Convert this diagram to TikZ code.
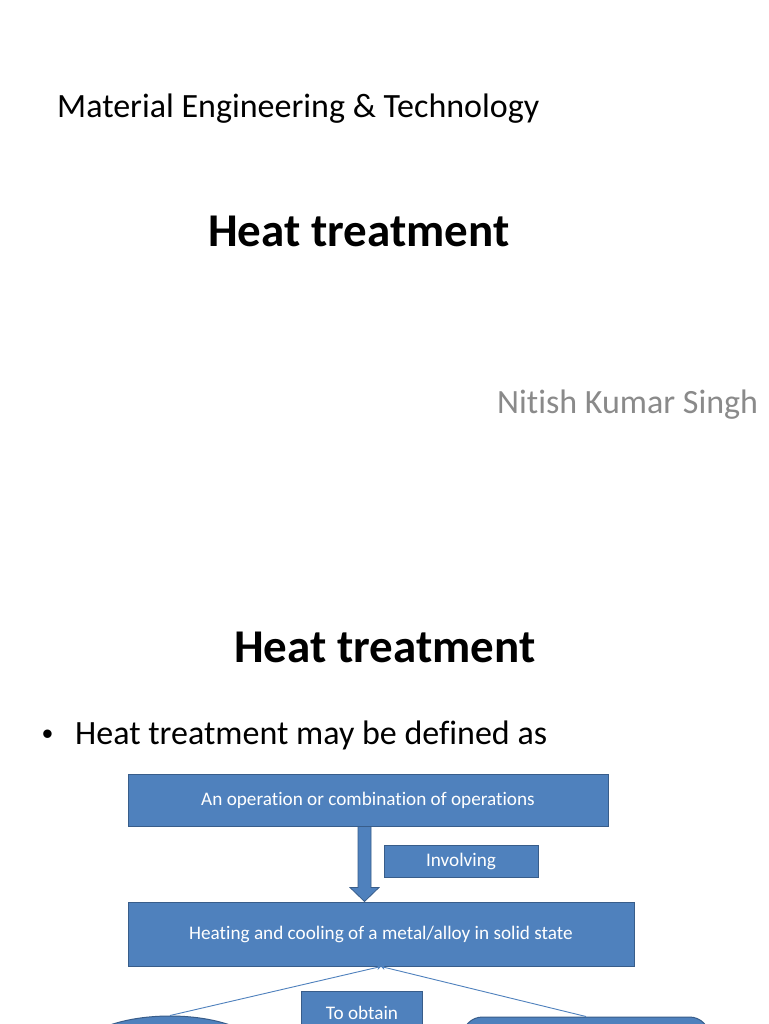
\documentclass[tikz,border=0pt]{standalone}
\usepackage{fontspec}
\setmainfont[Ligatures=NoCommon]{Carlito}
\newfontfamily\bulletfont{Liberation Sans}
\usetikzlibrary{calc,arrows.meta,shapes.geometric}
\definecolor{boxblue}{HTML}{4F81BD}
\definecolor{boxedge}{HTML}{385D8A}
\definecolor{namegray}{HTML}{8A8A8A}

\tikzset{
	flowbox/.style={draw=boxedge, fill=boxblue, line width=1pt, text=white,
		font=\fontsize{19.2}{22}\selectfont, inner sep=0pt},
	linkline/.style={draw=boxblue, line width=0.9pt, -{Stealth[length=4pt,width=5pt]}},
	slidetext/.style={anchor=base west, inner sep=0pt}
}

\begin{document}
\begin{tikzpicture}[x=1pt,y=-1pt]
\useasboundingbox (0,0) rectangle (768,1024);
\clip (0,0) rectangle (768,1024);
\fill[white] (0,0) rectangle (768,1024);
% first slide
\node[slidetext, font=\fontsize{34}{40}\selectfont] (course) at (57,118) {Material Engineering \& Technology};
\node[slidetext, font=\fontsize{47}{54}\selectfont\bfseries] (title) at (208,247) {Heat treatment};
\node[slidetext, text=namegray, font=\fontsize{34}{40}\selectfont] (author) at (497,413) {Nitish Kumar Singh};
% second slide
\node[slidetext, font=\fontsize{47}{54}\selectfont\bfseries] (title2) at (234,662) {Heat treatment};
\node[slidetext, font=\bulletfont\fontsize{31}{36}\selectfont] (dot) at (42,744) {•};
\node[slidetext, font=\fontsize{34}{40}\selectfont] (defn) at (75,744) {Heat treatment may be defined as};
% flow chart
\node[flowbox, minimum width=480pt, minimum height=52pt] (oper) at (368,800) {An operation or combination of operations};
\node[flowbox, minimum width=154pt, minimum height=32pt] (involve) at (461,861) {Involving};
\node[flowbox, minimum width=506pt, minimum height=64pt] (heat) at (381,934) {Heating and cooling of a metal/alloy in solid state};
\node[flowbox, minimum width=121pt, minimum height=44pt] (obtain) at (362,1013) {To obtain};
\node[flowbox, ellipse, minimum width=190pt, minimum height=80pt] (left) at (170,1056) {};
\node[flowbox, rounded corners=20pt, minimum width=247pt, minimum height=68pt] (right) at (586,1051) {};
% block arrow
\coordinate (atop) at (oper.south -| 364.5,0);
\coordinate (abot) at (heat.north -| 364.5,0);
\filldraw[draw=boxedge, fill=boxblue, line width=0.8pt]
	($(atop)+(-6.5,0)$) -- ($(atop)+(6.5,0)$) -- ($(abot)+(6.5,-14)$) -- ($(abot)+(14.5,-14)$)
	-- (abot) -- ($(abot)+(-14.5,-14)$) -- ($(abot)+(-6.5,-14)$) -- cycle;
% links
\draw[linkline] (left.north) -- (heat.south);
\draw[linkline] (right.north) -- (heat.south);
\end{tikzpicture}
\end{document}
